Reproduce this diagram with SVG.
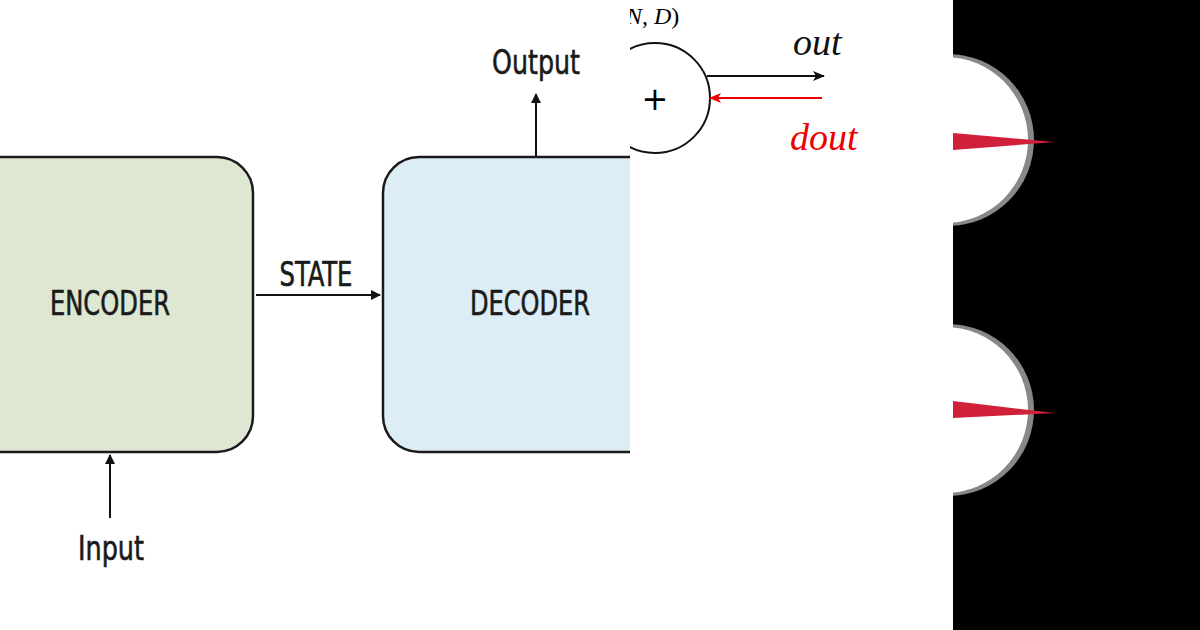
<svg xmlns="http://www.w3.org/2000/svg" width="1200" height="630" viewBox="0 0 1200 630">
<defs>
<style>
.lbl{font-family:"DejaVu Sans Condensed","DejaVu Sans",sans-serif;font-stretch:condensed;font-size:34px;fill:#1a1a1a;stroke:#1a1a1a;stroke-width:0.6;text-anchor:middle}
.box{stroke:#1a1a1a;stroke-width:2.5}
.ln{stroke:#111;stroke-width:2;fill:none}
.math{font-family:"Liberation Serif",serif;font-style:italic;font-size:38px}
</style>
<marker id="ah" markerWidth="10" markerHeight="10" refX="9" refY="5" orient="auto" markerUnits="userSpaceOnUse"><path d="M0,0 L10,5 L0,10 z" fill="#111"/></marker>
<marker id="ar" markerWidth="12" markerHeight="10" refX="11" refY="5" orient="auto" markerUnits="userSpaceOnUse"><path d="M0,0 L12,5 L0,10 L3,5 z" fill="#e00"/></marker>
<marker id="ak" markerWidth="12" markerHeight="10" refX="11" refY="5" orient="auto" markerUnits="userSpaceOnUse"><path d="M0,0 L12,5 L0,10 L3,5 z" fill="#111"/></marker>
<clipPath id="cl"><rect x="0" y="0" width="630" height="630"/></clipPath>
<clipPath id="cm"><rect x="630" y="0" width="323" height="630"/></clipPath>
<clipPath id="cr"><rect x="953" y="0" width="247" height="630"/></clipPath>
</defs>
<rect width="1200" height="630" fill="#fff"/>
<g clip-path="url(#cl)">
<g id="encoder"><rect class="box" x="-40" y="157" width="293" height="295" rx="36" fill="#dee7d1"/><text class="lbl" x="110" y="315" textLength="120" lengthAdjust="spacingAndGlyphs">ENCODER</text></g>
<g id="decoder"><rect class="box" x="383" y="157" width="300" height="295" rx="36" fill="#ddedf5"/><text class="lbl" x="530" y="315" textLength="120" lengthAdjust="spacingAndGlyphs">DECODER</text></g>
<g id="input"><text class="lbl" x="111" y="560" textLength="66" lengthAdjust="spacingAndGlyphs">Input</text></g>
<g id="output"><text class="lbl" x="536" y="74" textLength="88" lengthAdjust="spacingAndGlyphs">Output</text></g>
<g id="state"><text class="lbl" x="316" y="286" textLength="73" lengthAdjust="spacingAndGlyphs">STATE</text></g>
<g id="connectors">
<line class="ln" x1="110" y1="518" x2="110" y2="455" marker-end="url(#ah)"/>
<line class="ln" x1="256" y1="295" x2="380" y2="295" marker-end="url(#ah)"/>
<line class="ln" x1="536" y1="156" x2="536" y2="94" marker-end="url(#ah)"/>
</g>
</g>
<g clip-path="url(#cm)">
<g id="sum"><circle cx="655" cy="98" r="55" fill="#fff" stroke="#111" stroke-width="2"/><text x="655" y="110" font-family="DejaVu Sans,sans-serif" font-size="32" text-anchor="middle">+</text></g>
<text x="618" y="24" font-family="Liberation Serif,serif" font-size="24">(<tspan font-style="italic">N</tspan>, <tspan font-style="italic">D</tspan>)</text>
<text class="math" x="793" y="55" fill="#111">out</text>
<text class="math" x="790" y="150" fill="#e00">dout</text>
<line x1="707" y1="76" x2="824" y2="76" stroke="#111" stroke-width="2" marker-end="url(#ak)"/>
<line x1="822" y1="98" x2="710" y2="98" stroke="#e00" stroke-width="2" marker-end="url(#ar)"/>
</g>
<g>
<rect x="953" y="0" width="247" height="630" fill="#000"/>
<g clip-path="url(#cr)">
<circle cx="948" cy="140" r="86" fill="#888"/><circle cx="945" cy="140" r="83" fill="#fff"/>
<circle cx="948" cy="410" r="86" fill="#888"/><circle cx="945" cy="410" r="83" fill="#fff"/>
<path d="M953,133 L1055,142 L953,150 z" fill="#d0203a"/>
<path d="M953,401 L1055,413 L953,418 z" fill="#d0203a"/>
</g>
</g>
</svg>
